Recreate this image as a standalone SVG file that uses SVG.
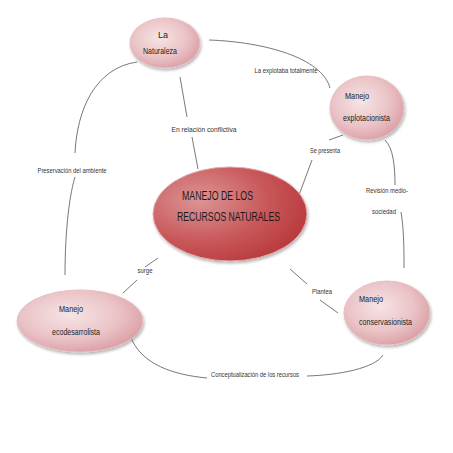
<svg xmlns="http://www.w3.org/2000/svg" width="453" height="453" viewBox="0 0 453 453">
<defs>
<radialGradient id="pink" cx="0.42" cy="0.4" r="0.65">
<stop offset="0" stop-color="#f6e4e5"/>
<stop offset="0.6" stop-color="#eac3c6"/>
<stop offset="1" stop-color="#d99ca3"/>
</radialGradient>
<radialGradient id="red" cx="0.3" cy="0.35" r="0.8">
<stop offset="0" stop-color="#dc9596"/>
<stop offset="0.55" stop-color="#c9585a"/>
<stop offset="1" stop-color="#b53538"/>
</radialGradient>
<filter id="sh" x="-10%" y="-10%" width="130%" height="130%">
<feGaussianBlur in="SourceAlpha" stdDeviation="1.5"/>
<feOffset dx="1" dy="2"/>
<feComponentTransfer><feFuncA type="linear" slope="0.3"/></feComponentTransfer>
<feMerge><feMergeNode/><feMergeNode in="SourceGraphic"/></feMerge>
</filter>
</defs>
<style>
.n{fill:url(#pink);stroke:#e6c0c4;stroke-width:1;filter:url(#sh)}
.c{fill:url(#red);stroke:#e0a8aa;stroke-width:1;filter:url(#sh)}
.t{font-family:"Liberation Sans",Arial,sans-serif;font-size:9px;fill:#222}
.tc{font-family:"Liberation Sans",Arial,sans-serif;font-size:12px;fill:#1a1a1a}
.l{font-family:"Liberation Sans",Arial,sans-serif;font-size:7px;fill:#333}
.e{fill:none;stroke:#555;stroke-width:0.8}
</style>
<rect width="453" height="453" fill="#fff"/>
<g id="connectors">
<path class="e" d="M209,40 C265,42 322,58 330,88"/>
<path class="e" d="M180,77 L187,117"/>
<path class="e" d="M192,137 L198,169"/>
<path class="e" d="M137,62 C95,68 77,110 75,153"/>
<path class="e" d="M75,177 C68,200 65,240 65,275"/>
<path class="e" d="M158,258 L145,267"/>
<path class="e" d="M137,280 L123,293"/>
<path class="e" d="M343,135 L329,140"/>
<path class="e" d="M312,160 L299,195"/>
<path class="e" d="M385,140 C393,148 395,165 395,185"/>
<path class="e" d="M401,212 C404,230 404,250 404,268"/>
<path class="e" d="M290,269 L307,284"/>
<path class="e" d="M320,300 L338,313"/>
<path class="e" d="M130,335 C140,365 175,375 207,378"/>
<path class="e" d="M307,376 C340,375 375,368 383,355"/>
<text class="l" x="286" y="73" text-anchor="middle" textLength="63" lengthAdjust="spacingAndGlyphs">La explotaba totalmente</text>
<text class="l" x="204" y="132" text-anchor="middle" textLength="65" lengthAdjust="spacingAndGlyphs">En relación conflictiva</text>
<text class="l" x="72" y="173" text-anchor="middle" textLength="69" lengthAdjust="spacingAndGlyphs">Preservación del ambiente</text>
<text class="l" x="145" y="273" text-anchor="middle" textLength="15" lengthAdjust="spacingAndGlyphs">surge</text>
<text class="l" x="325" y="153" text-anchor="middle" textLength="30" lengthAdjust="spacingAndGlyphs">Se presenta</text>
<text class="l" x="387" y="193" text-anchor="middle" textLength="42" lengthAdjust="spacingAndGlyphs">Revisión medio-</text>
<text class="l" x="384" y="214" text-anchor="middle" textLength="24" lengthAdjust="spacingAndGlyphs">sociedad</text>
<text class="l" x="322" y="294" text-anchor="middle" textLength="20" lengthAdjust="spacingAndGlyphs">Plantea</text>
<text class="l" x="255" y="377" text-anchor="middle" textLength="88" lengthAdjust="spacingAndGlyphs">Conceptualización de los recursos</text>
</g>
<g id="naturaleza">
<ellipse class="n" cx="165" cy="43" rx="35" ry="25"/>
<text class="t" x="163" y="38" text-anchor="middle">La</text>
<text class="t" x="160" y="54" text-anchor="middle" textLength="34" lengthAdjust="spacingAndGlyphs">Naturaleza</text>
</g>
<g id="central">
<ellipse class="c" cx="230" cy="214" rx="77" ry="47"/>
<text class="tc" x="182" y="200" textLength="71" lengthAdjust="spacingAndGlyphs">MANEJO  DE LOS</text>
<text class="tc" x="177" y="221" textLength="103" lengthAdjust="spacingAndGlyphs">RECURSOS NATURALES</text>
</g>
<g id="explotacionista">
<ellipse class="n" cx="367" cy="108" rx="37" ry="32"/>
<text class="t" x="345" y="99" textLength="24" lengthAdjust="spacingAndGlyphs">Manejo</text>
<text class="t" x="343" y="121" textLength="47" lengthAdjust="spacingAndGlyphs">explotacionista</text>
</g>
<g id="conservasionista">
<ellipse class="n" cx="387" cy="313" rx="43" ry="32"/>
<text class="t" x="359" y="302" textLength="24" lengthAdjust="spacingAndGlyphs">Manejo</text>
<text class="t" x="359" y="325" textLength="53" lengthAdjust="spacingAndGlyphs">conservasionista</text>
</g>
<g id="ecodesarrolista">
<ellipse class="n" cx="80" cy="321" rx="63" ry="31"/>
<text class="t" x="59" y="312" textLength="24" lengthAdjust="spacingAndGlyphs">Manejo</text>
<text class="t" x="52" y="335" textLength="48" lengthAdjust="spacingAndGlyphs">ecodesarrolista</text>
</g>
</svg>
